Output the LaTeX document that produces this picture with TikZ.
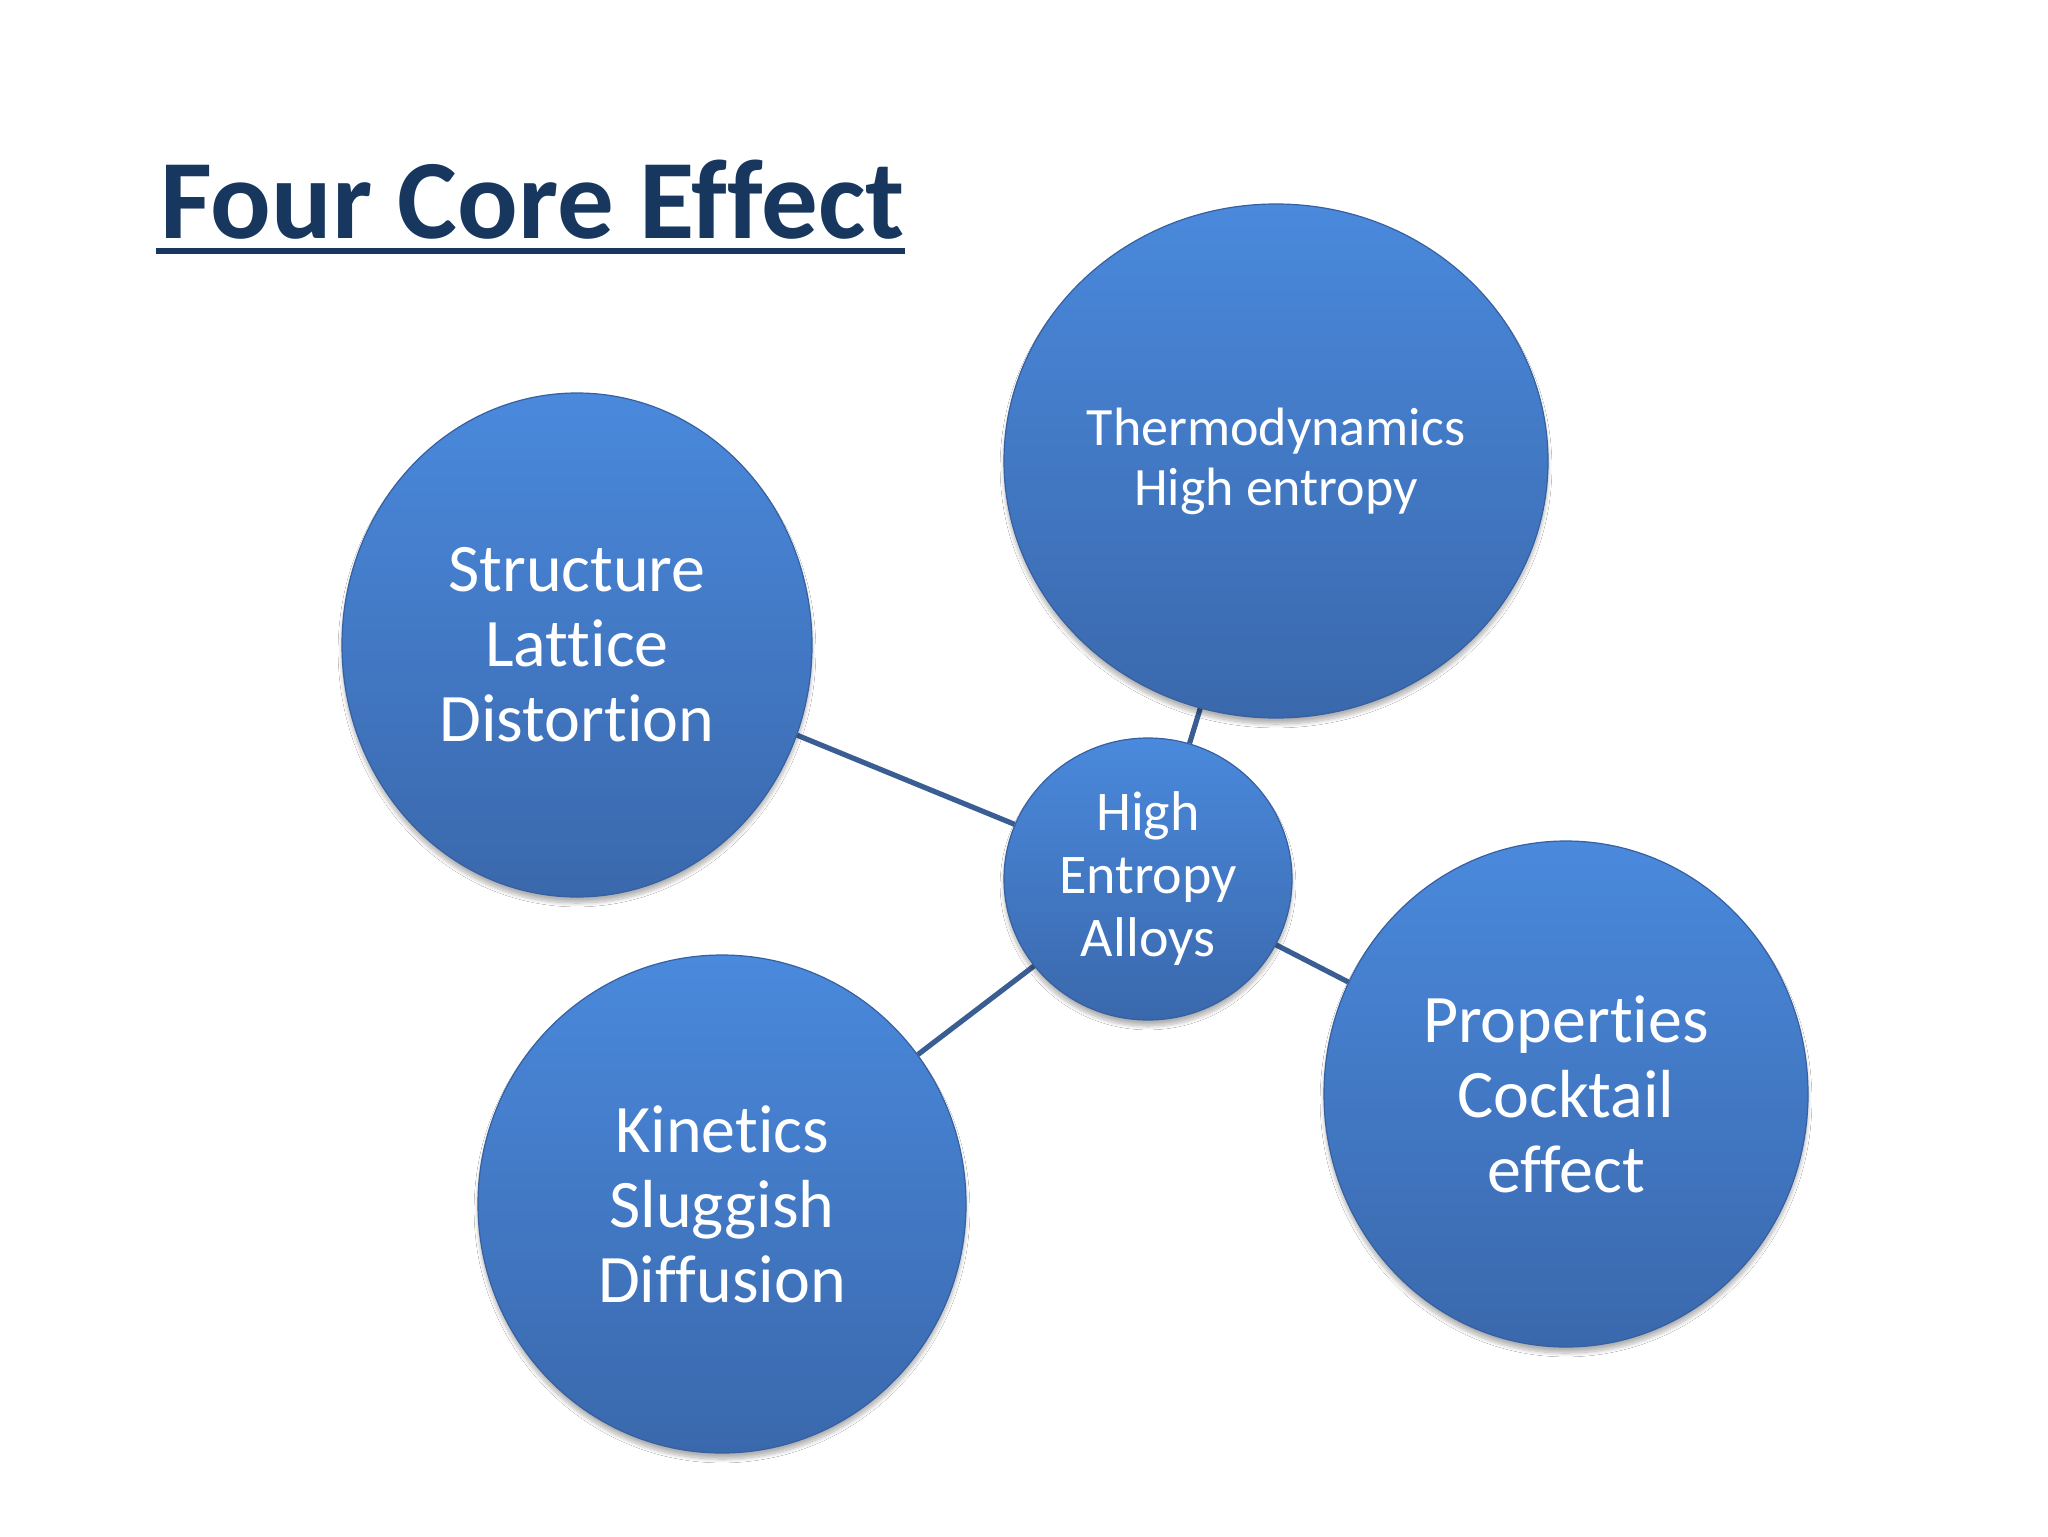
\documentclass[tikz,border=0pt]{standalone}
\usepackage{fontspec}
\setmainfont{Carlito}[Ligatures=NoCommon]
\usetikzlibrary{shapes.geometric,shadows.blur,backgrounds}
\definecolor{titlec}{RGB}{23,55,94}
\definecolor{topc}{RGB}{74,137,220}
\definecolor{botc}{RGB}{58,104,172}
\definecolor{rimc}{RGB}{55,96,160}
\definecolor{linec}{RGB}{58,94,148}
\tikzset{
  bubble/.style={ellipse, inner sep=0pt, text=white, align=center,
    top color=topc, bottom color=botc, draw=rimc, line width=0.6pt,
    blur shadow={shadow xshift=0pt, shadow yshift=-3pt, shadow blur steps=12, shadow opacity=30}},
  bigtext/.style={font=\fontsize{34}{37.5}\selectfont},
  conn/.style={draw=linec, line width=2.6pt}
}
\begin{document}
\begin{tikzpicture}[x=0.5pt,y=-0.5pt]
\useasboundingbox (0,0) rectangle (2048,1536);
% title
\node[anchor=base west, inner sep=0pt, text=titlec, font=\fontsize{56.5}{60}\selectfont\bfseries] (title) at (160,238) {Four Core Effect};
\draw[titlec, line width=3pt] ([xshift=-2pt,yshift=-6.5pt]title.base west) -- ([xshift=0pt,yshift=-6.5pt]title.base east);
% bubbles
\node[bubble, bigtext, minimum width=235pt, minimum height=252pt] (s) at (577,645) {Structure\\Lattice\\Distortion};
\node[bubble, font=\fontsize{27}{30}\selectfont, minimum width=272pt, minimum height=257pt] (t) at (1276,461) {Thermodynamics\\High entropy};
\node[bubble, font=\fontsize{28}{31.5}\selectfont, minimum width=144pt, minimum height=141pt] (c) at (1148,879) {High\\Entropy\\Alloys};
\node[bubble, bigtext, minimum width=244pt, minimum height=249pt] (k) at (722,1204) {Kinetics\\Sluggish\\Diffusion};
\node[bubble, bigtext, minimum width=242pt, minimum height=253pt] (p) at (1566,1094) {Properties\\Cocktail\\effect};
% background and connectors
\begin{scope}[on background layer]
\fill[white] (0,0) rectangle (2048,1536);
\draw[conn] (s) -- (c);
\draw[conn] (t) -- (c);
\draw[conn] (k) -- (c);
\draw[conn] (p) -- (c);
\end{scope}
\end{tikzpicture}
\end{document}
